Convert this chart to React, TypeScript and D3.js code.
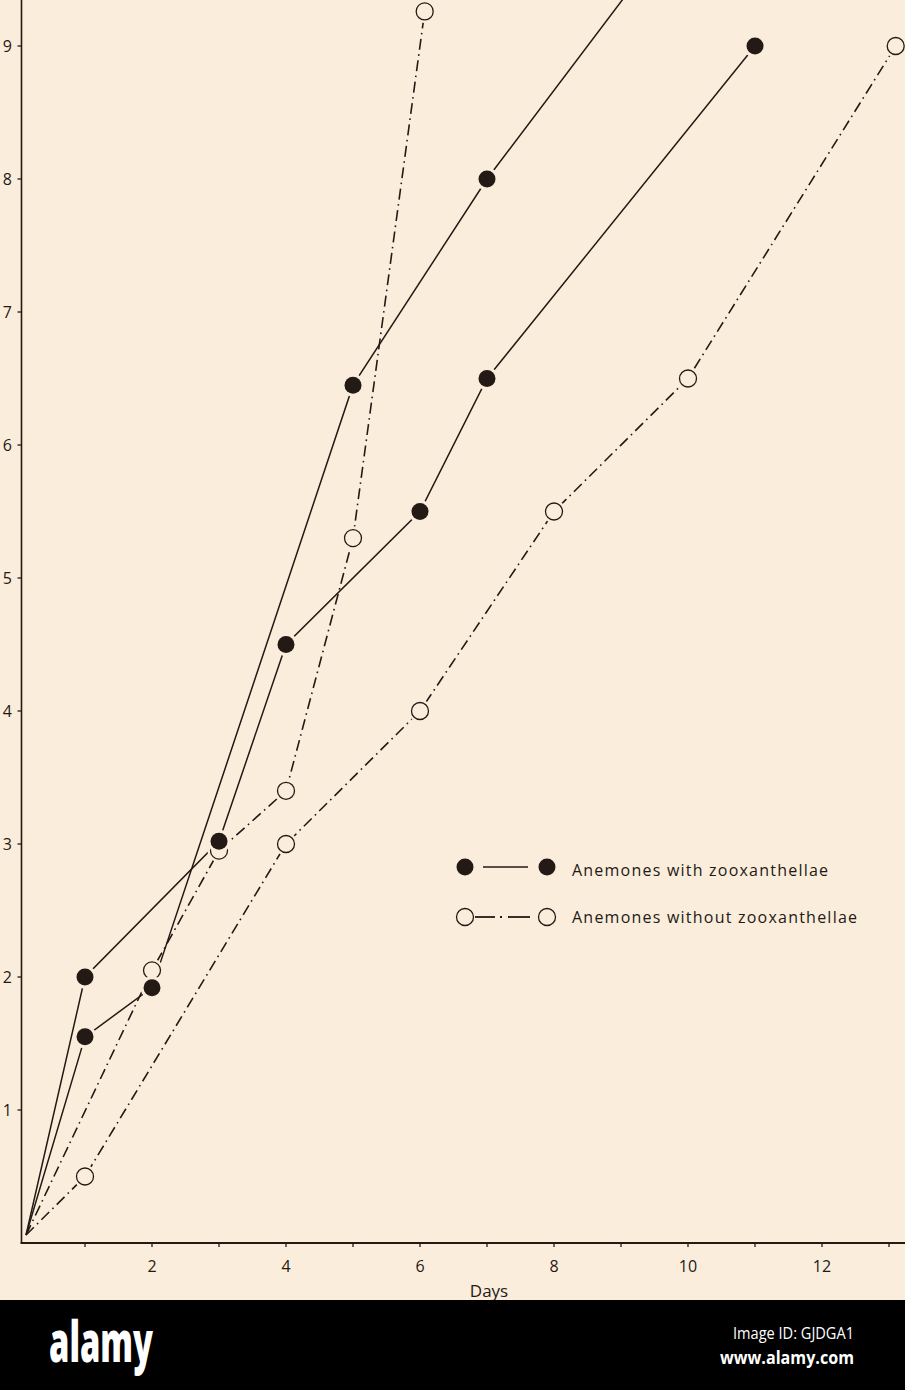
import React from "react";
import * as d3 from "d3";

// ---- data ----
const xTickValues = [1, 2, 3, 4, 5, 6, 7, 8, 9, 10, 11, 12, 13];
const xTickLabels = ["", "2", "", "4", "", "6", "", "8", "", "10", "", "12", ""];
const yTickValues = [1, 2, 3, 4, 5, 6, 7, 8, 9];
const yTickLabels = ["1", "2", "3", "4", "5", "6", "7", "8", "9"];

// Anemones with zooxanthellae (filled, solid lines)
const withA_days = [0.12, 1, 3, 4, 6, 7, 11];
const withA_vals = [0.06, 2.0, 3.02, 4.5, 5.5, 6.5, 9.0];
const withB_days = [0.12, 1, 2, 5, 7, 10];
const withB_vals = [0.06, 1.55, 1.92, 6.45, 8.0, 10.0];

// Anemones without zooxanthellae (open, dash-dot lines)
const withoutA_days = [0.12, 2, 3, 4, 5, 6.07];
const withoutA_vals = [0.06, 2.05, 2.95, 3.4, 5.3, 9.26];
const withoutB_days = [0.12, 1, 4, 6, 8, 10, 13.1];
const withoutB_vals = [0.06, 0.5, 3.0, 4.0, 5.5, 6.5, 9.0];

const legendLabels = ["Anemones with zooxanthellae", "Anemones without zooxanthellae"];
const xAxisTitle = "Days";

// ---- layout / style ----
const W = 905;
const H = 1390;
const BG = "#FBEDDB";
const INK = "#231a16";
const FONT = "'Open Sans', 'DejaVu Sans', sans-serif";
const R = 8.5;

const x = d3.scaleLinear().domain([0, 13]).range([18, 889]);
const y = d3.scaleLinear().domain([0, 9]).range([1243, 46]);
const axisX = 21.5; // y-axis line position
const axisY = y(0);

type P = [number, number];
const zip = (a: number[], b: number[]): P[] => a.map((d, i) => [d, b[i]]);

const filledSeries = [zip(withA_days, withA_vals), zip(withB_days, withB_vals)];
const openSeries = [zip(withoutA_days, withoutA_vals), zip(withoutB_days, withoutB_vals)];

const line = d3
  .line<P>()
  .x((d) => x(d[0]))
  .y((d) => y(d[1]));

const DASH = "11,4.5,1.6,4.5";

export default function App() {
  return (
    <svg
      width={W}
      height={H}
      viewBox={`0 0 ${W} ${H}`}
      style={{ position: "absolute", left: 0, top: 0, display: "block" }}
    >
      <defs>
        <clipPath id="plot">
          <rect x={axisX} y={0} width={W - axisX} height={axisY} />
        </clipPath>
      </defs>
      <rect x={0} y={0} width={W} height={H} fill={BG} />

      {/* axes */}
      <line x1={axisX} x2={axisX} y1={0} y2={axisY} stroke={INK} strokeWidth={1.6} />
      <line x1={axisX - 1} x2={W} y1={axisY} y2={axisY} stroke={INK} strokeWidth={1.8} />
      {yTickValues.map((v, i) => (
        <g key={"yt" + v}>
          <line x1={axisX - 4} x2={axisX} y1={y(v)} y2={y(v)} stroke={INK} strokeWidth={1.3} />
          <text
            x={12}
            y={y(v)}
            dy="0.36em"
            textAnchor="end"
            fontFamily={FONT}
            fontSize={16}
            fill={INK}
          >
            {yTickLabels[i]}
          </text>
        </g>
      ))}
      {xTickValues.map((v, i) => (
        <g key={"xt" + v}>
          <line x1={x(v)} x2={x(v)} y1={axisY} y2={axisY + 4} stroke={INK} strokeWidth={1.3} />
          {xTickLabels[i] && (
            <text
              x={x(v)}
              y={axisY + 29}
              textAnchor="middle"
              fontFamily={FONT}
              fontSize={16}
              fill={INK}
            >
              {xTickLabels[i]}
            </text>
          )}
        </g>
      ))}
      <text
        x={489}
        y={1297}
        textAnchor="middle"
        fontFamily={FONT}
        fontSize={17}
        fill={INK}
      >
        {xAxisTitle}
      </text>

      {/* series */}
      <g clipPath="url(#plot)">
        {openSeries.map((s, i) => (
          <path
            key={"ol" + i}
            d={line(s) || ""}
            fill="none"
            stroke={INK}
            strokeWidth={1.6}
            strokeDasharray={DASH}
          />
        ))}
        {filledSeries.map((s, i) => (
          <path key={"fl" + i} d={line(s) || ""} fill="none" stroke={INK} strokeWidth={1.5} />
        ))}
        {openSeries.map((s, i) =>
          s.slice(1).map((d, j) => (
            <g key={"om" + i + "-" + j}>
              <circle cx={x(d[0])} cy={y(d[1])} r={R + 3} fill={BG} />
              <circle
                cx={x(d[0])}
                cy={y(d[1])}
                r={R}
                fill={BG}
                stroke={INK}
                strokeWidth={1.3}
              />
            </g>
          ))
        )}
        {filledSeries.map((s, i) =>
          s.slice(1).map((d, j) => (
            <g key={"fm" + i + "-" + j}>
              <circle cx={x(d[0])} cy={y(d[1])} r={R + 3} fill={BG} />
              <circle cx={x(d[0])} cy={y(d[1])} r={R} fill={INK} />
            </g>
          ))
        )}
      </g>

      {/* legend */}
      <g>
        <circle cx={465} cy={867} r={R} fill={INK} />
        <line x1={483} x2={528} y1={867} y2={867} stroke={INK} strokeWidth={1.6} />
        <circle cx={547} cy={867} r={R} fill={INK} />
        <text
          x={572}
          y={876}
          fontFamily={FONT}
          fontSize={16}
          fill={INK}
          textLength={256}
          lengthAdjust="spacing"
        >
          {legendLabels[0]}
        </text>

        <circle cx={465} cy={917} r={R} fill={BG} stroke={INK} strokeWidth={1.3} />
        <line x1={475} x2={495} y1={917} y2={917} stroke={INK} strokeWidth={1.8} />
        <line x1={500} x2={502} y1={917} y2={917} stroke={INK} strokeWidth={1.8} />
        <line x1={508} x2={530} y1={917} y2={917} stroke={INK} strokeWidth={1.8} />
        <circle cx={547} cy={917} r={R} fill={BG} stroke={INK} strokeWidth={1.3} />
        <text
          x={572}
          y={923}
          fontFamily={FONT}
          fontSize={16}
          fill={INK}
          textLength={285}
          lengthAdjust="spacing"
        >
          {legendLabels[1]}
        </text>
      </g>

      {/* stock-photo footer band */}
      <rect x={0} y={1300} width={W} height={H - 1300} fill="#000" />
      <text
        x={49}
        y={1362}
        fontFamily="'Open Sans', 'DejaVu Sans', sans-serif"
        fontWeight={800}
        fontSize={56}
        fill="#fff"
        textLength={104}
        lengthAdjust="spacingAndGlyphs"
      >
        alamy
      </text>
      <text
        x={854}
        y={1339}
        textAnchor="end"
        fontFamily="'Open Sans', sans-serif"
        fontSize={16}
        fill="#fff"
        textLength={121}
        lengthAdjust="spacingAndGlyphs"
      >
        Image ID: GJDGA1
      </text>
      <text
        x={854}
        y={1364}
        textAnchor="end"
        fontFamily="'Open Sans', sans-serif"
        fontWeight={700}
        fontSize={18}
        fill="#fff"
        textLength={134}
        lengthAdjust="spacingAndGlyphs"
      >
        www.alamy.com
      </text>
    </svg>
  );
}
